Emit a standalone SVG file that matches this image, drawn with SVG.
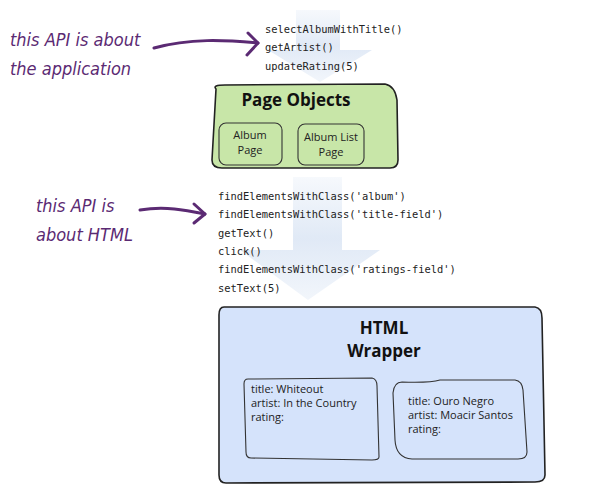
<svg xmlns="http://www.w3.org/2000/svg" width="609" height="502" viewBox="0 0 609 502">
<style>
.code{font-family:"DejaVu Sans Mono","Liberation Mono",monospace;font-size:10.4px;fill:#222}
.hand{font-family:"DejaVu Sans Condensed","DejaVu Sans",sans-serif;font-size:18px;fill:#5b2a73;font-style:italic}
.ttl{font-family:"Open Sans","Noto Sans",sans-serif;font-weight:bold;fill:#111;text-anchor:middle}
.sm{font-family:"Open Sans","Noto Sans",sans-serif;font-size:11px;fill:#222}
.box{stroke:#222;stroke-width:1.6}
.in{fill:none;stroke:#333;stroke-width:1.1}
.pa{fill:none;stroke:#5b2a73;stroke-width:3;stroke-linecap:round;stroke-linejoin:round}
</style>
<defs>
<linearGradient id="g" x1="0" y1="0" x2="0" y2="1">
<stop offset="0" stop-color="#d3e0f2" stop-opacity="0.2"/>
<stop offset="0.5" stop-color="#d3e0f2" stop-opacity="0.7"/>
<stop offset="1" stop-color="#d3e0f2" stop-opacity="0.3"/>
</linearGradient>
</defs>
<rect width="609" height="502" fill="#fff"/>
<g id="bg-arrows">
<path d="M296 10 H340 V50 H372 L320 82 L268 50 H296 Z" fill="url(#g)"/>
<path d="M293 177 H342 V250 H380 L308 300 L240 250 H293 Z" fill="url(#g)"/>
</g>
<g id="connectors">
<path class="pa" d="M154 48 C190 38 225 40 258 43"/>
<path class="pa" d="M248 33 L258 43 L247 55"/>
<path class="pa" d="M140 210 C165 206 185 210 205 214"/>
<path class="pa" d="M194 204 L205 214 L194 223"/>
</g>
<g id="labels">
<text class="hand" x="10" y="46">this API is about</text>
<text class="hand" x="10" y="75">the application</text>
<text class="hand" x="36" y="212">this API is</text>
<text class="hand" x="36" y="241">about HTML</text>
</g>
<g id="code1">
<text class="code" x="265" y="33">selectAlbumWithTitle()</text>
<text class="code" x="265" y="51">getArtist()</text>
<text class="code" x="265" y="70">updateRating(5)</text>
</g>
<g id="page-objects">
<path class="box" fill="#c8e6a8" d="M216 89 Q212 85 225 85 L385 84 Q395 86 397 100 L398 160 Q398 168 390 168 L222 168 Q212 168 212 160 Z"/>
<text class="ttl" x="296" y="106" font-size="17">Page Objects</text>
</g>
<g id="album-page">
<rect class="in" x="219" y="123" width="63" height="42" rx="7"/>
<text class="sm" x="250" y="139" text-anchor="middle">Album</text>
<text class="sm" x="250" y="154" text-anchor="middle">Page</text>
</g>
<g id="album-list-page">
<rect class="in" x="298" y="124" width="66" height="41" rx="7"/>
<text class="sm" x="331" y="141" text-anchor="middle">Album List</text>
<text class="sm" x="331" y="156" text-anchor="middle">Page</text>
</g>
<g id="code2">
<text class="code" x="218" y="200">findElementsWithClass('album')</text>
<text class="code" x="218" y="218">findElementsWithClass('title-field')</text>
<text class="code" x="218" y="237">getText()</text>
<text class="code" x="218" y="255">click()</text>
<text class="code" x="218" y="273">findElementsWithClass('ratings-field')</text>
<text class="code" x="218" y="292">setText(5)</text>
</g>
<g id="html-wrapper">
<path class="box" fill="#d5e3fb" d="M224 307 L535 307 Q542 308 542 318 L545 475 Q545 482 535 482 L226 483 Q219 483 219 475 L219 315 Q219 307 224 307 Z"/>
<text class="ttl" x="384" y="334" font-size="17">HTML</text>
<text class="ttl" x="384" y="357" font-size="17">Wrapper</text>
</g>
<g id="album1">
<path class="in" d="M248 379 L372 378 Q377 379 377 386 L379 457 Q379 460 372 460 L251 458 Q246 458 246 452 L244 384 Q244 379 248 379 Z"/>
<text class="sm" x="251" y="393">title: Whiteout</text>
<text class="sm" x="251" y="407">artist: In the Country</text>
<text class="sm" x="251" y="421">rating:</text>
</g>
<g id="album2">
<path class="in" d="M402 382 Q430 383 440 380 L515 380 Q522 381 523 390 L527 452 Q527 459 518 459 L412 459 Q396 458 395 440 L393 393 Q394 382 402 382 Z"/>
<text class="sm" x="408" y="405">title: Ouro Negro</text>
<text class="sm" x="408" y="419">artist: Moacir Santos</text>
<text class="sm" x="408" y="433">rating:</text>
</g>
</svg>
